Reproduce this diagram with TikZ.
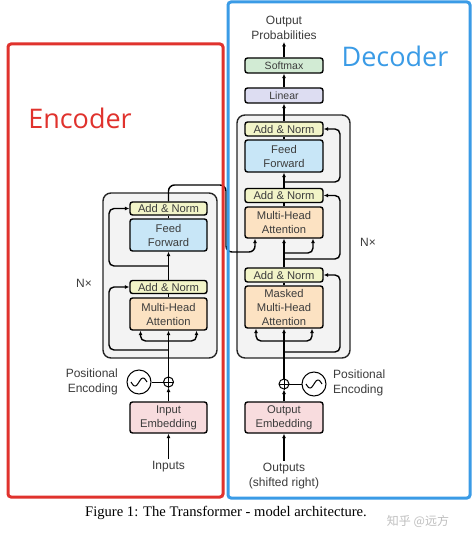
\documentclass[tikz,border=0pt]{standalone}
\usepackage{fontspec}
\setmainfont{Liberation Serif}
\newfontfamily\hv{Liberation Sans}
\newfontfamily\osans{Open Sans}
\newfontfamily\cjk{Noto Sans CJK SC}
\usetikzlibrary{arrows.meta}
\definecolor{an}{HTML}{F2F4C8}
\definecolor{ff}{HTML}{C8E6F7}
\definecolor{mha}{HTML}{FCE2C2}
\definecolor{emb}{HTML}{F8DCDE}
\definecolor{lin}{HTML}{DDDDF2}
\definecolor{smx}{HTML}{D2EBD4}
\definecolor{grayfill}{HTML}{F3F3F3}
\definecolor{txt}{HTML}{3C3C3C}
\definecolor{encred}{HTML}{E0322D}
\definecolor{decblue}{HTML}{3A9BE6}
\begin{document}
\begin{tikzpicture}[x=1pt,y=-1pt,
  blk/.style={draw=black, line width=1.4pt, rounded corners=2.5pt, minimum width=77pt, inner sep=0pt, align=center, text=txt, font=\hv\fontsize{11.2}{14}\selectfont},
  addnorm/.style={blk, fill=an, minimum height=13pt},
  ffbox/.style={blk, fill=ff, minimum height=32pt},
  mhabox/.style={blk, fill=mha, minimum height=32pt},
  embbox/.style={blk, fill=emb, minimum height=31pt},
  linbox/.style={blk, fill=lin, minimum height=15pt, font=\hv\fontsize{10.5}{13}\selectfont},
  smxbox/.style={blk, fill=smx, minimum height=15pt, font=\hv\fontsize{10.5}{13}\selectfont},
  graybox/.style={draw=black!85, line width=1.4pt, fill=grayfill, rounded corners=8pt, inner sep=0pt},
  lbl/.style={text=txt, font=\hv\fontsize{12}{15}\selectfont, align=center, inner sep=0pt},
  conn/.style={line width=1.4pt, draw=black},
  arr/.style={conn, -{Latex[length=4.5pt,width=4pt]}},
  rc/.style={rounded corners=5pt},
  plusc/.style={circle, draw=black, line width=1pt, minimum size=10pt, inner sep=0pt, fill=white},
  sinc/.style={circle, draw=black, line width=1pt, minimum size=24pt, inner sep=0pt, fill=white},
  annot/.style={line width=3pt, rounded corners=3pt, inner sep=0pt},
  bigword/.style={font=\osans\fontsize{27}{30}\selectfont, inner sep=0pt}
]
\useasboundingbox (0,0) rectangle (474,540);
\fill[white] (0,0) rectangle (474,540);

% gray layer boxes
\node[graybox, minimum width=114pt, minimum height=165pt] (eGray) at (160,275.5) {};
\node[graybox, minimum width=113pt, minimum height=243pt] (dGray) at (293.5,236.5) {};

% encoder blocks
\node[addnorm] (eAN2) at (168.5,208.5) {Add \& Norm};
\node[ffbox] (eFF) at (168.5,235) {Feed\\Forward};
\node[addnorm] (eAN1) at (168.5,287) {Add \& Norm};
\node[mhabox] (eMHA) at (168.5,314) {Multi-Head\\Attention};
\node[embbox] (eEmb) at (168.5,417.5) {Input\\Embedding};
\node[plusc] (ePlus) at (168.5,382) {};
\draw[line width=1pt] (ePlus.north) -- (ePlus.south) (ePlus.west) -- (ePlus.east);
\node[sinc] (eSin) at (139,382) {};
\draw[line width=1pt, shift={(eSin.center)}] plot[domain=-8:8, samples=40, smooth] (\x,{-4*sin(\x*22.5)});
\node[lbl] (eIn) at (168.5,467) {Inputs};
\node[lbl, anchor=east, align=right] (ePos) at (118,381.5) {Positional\\Encoding};
\node[lbl] (eN) at (84,283) {N×};

% decoder blocks
\node[addnorm, minimum width=78pt, minimum height=14pt] (dAN3) at (284,129) {Add \& Norm};
\node[ffbox, minimum width=78pt] (dFF) at (284,156) {Feed\\Forward};
\node[addnorm, minimum width=78pt, minimum height=14pt] (dAN2) at (284,195.5) {Add \& Norm};
\node[mhabox, minimum width=78pt, minimum height=31pt] (dMHA) at (284,222.5) {Multi-Head\\Attention};
\node[addnorm, minimum width=78pt, minimum height=14pt] (dAN1) at (284,275) {Add \& Norm};
\node[mhabox, minimum width=78pt, minimum height=42pt] (dMMHA) at (284,307) {Masked\\Multi-Head\\Attention};
\node[embbox, minimum width=78pt] (dEmb) at (284,417.5) {Output\\Embedding};
\node[linbox, minimum width=78pt] (dLin) at (284,95.5) {Linear};
\node[smxbox, minimum width=78pt] (dSmx) at (284,65.5) {Softmax};
\node[plusc] (dPlus) at (284,384) {};
\draw[line width=1pt] (dPlus.north) -- (dPlus.south) (dPlus.west) -- (dPlus.east);
\node[sinc] (dSin) at (314,384) {};
\draw[line width=1pt, shift={(dSin.center)}] plot[domain=-8:8, samples=40, smooth] (\x,{-4*sin(\x*22.5)});
\node[lbl] (dOut) at (284,476) {Outputs\\(shifted right)};
\node[lbl] (dProb) at (284,28) {Output\\Probabilities};
\node[lbl, anchor=west, align=left] (dPos) at (333,383) {Positional\\Encoding};
\node[lbl] (dN) at (368,242) {N×};

% helper coordinates
\coordinate (eLeft) at (109,0);
\coordinate (dRight) at (340,0);
\coordinate (eBr) at (168.5,341);
\coordinate (eR1) at (168.5,350);
\coordinate (eR2) at (168.5,266);
\coordinate (eTop) at (168.5,185);
\coordinate (eDown) at (226,252);
\coordinate (dBr) at (284,341);
\coordinate (dR1) at (284,352);
\coordinate (dBr2) at (284,253);
\coordinate (dR2) at (284,259);
\coordinate (dR3) at (284,182);

% encoder connectors
\draw[arr, shorten <=2pt] (eIn) -- (eEmb);
\draw[arr] (eEmb) -- (ePlus);
\draw[conn, line width=1pt] (eSin) -- (ePlus);
\draw[arr] (ePlus) -- (eMHA);
\draw[arr, rc] (eBr) -| ([xshift=-28pt]eMHA.south);
\draw[arr, rc] (eBr) -| ([xshift=28pt]eMHA.south);
\draw[arr, rc] (eR1) -| (eAN1.west -| eLeft) -- (eAN1.west);
\draw[conn] (eMHA) -- (eAN1);
\draw[arr] (eAN1) -- (eFF);
\draw[arr, rc] (eR2) -| (eAN2.west -| eLeft) -- (eAN2.west);
\draw[conn] (eFF) -- (eAN2);
\draw[arr, rounded corners=6pt] (eAN2.north) |- (eDown |- eTop) -- (eDown) -| ([xshift=-29pt]dMHA.south);

% decoder connectors
\draw[arr, shorten <=2pt] (dOut) -- (dEmb);
\draw[arr] (dEmb) -- (dPlus);
\draw[conn, line width=1pt] (dSin) -- (dPlus);
\draw[arr] (dPlus) -- (dMMHA);
\draw[arr, rc] (dBr) -| ([xshift=-28pt]dMMHA.south);
\draw[arr, rc] (dBr) -| ([xshift=28pt]dMMHA.south);
\draw[arr, rc] (dR1) -| (dAN1.east -| dRight) -- (dAN1.east);
\draw[conn] (dMMHA) -- (dAN1);
\draw[arr] (dAN1) -- (dMHA);
\draw[arr, rc] (dBr2) -| ([xshift=29pt]dMHA.south);
\draw[arr, rc] (dR2) -| (dAN2.east -| dRight) -- (dAN2.east);
\draw[conn] (dMHA) -- (dAN2);
\draw[arr] (dAN2) -- (dFF);
\draw[arr, rc] (dR3) -| (dAN3.east -| dRight) -- (dAN3.east);
\draw[conn] (dFF) -- (dAN3);
\draw[arr] (dAN3) -- (dLin);
\draw[arr] (dLin) -- (dSmx);
\draw[arr, shorten >=2pt] (dSmx) -- (dProb);

% annotation frames
\node[annot, draw=encred, minimum width=215pt, minimum height=453pt] (encFrame) at (115.5,270.5) {};
\node[annot, draw=decblue, minimum width=242pt, minimum height=496pt] (decFrame) at (349,250) {};
\node[bigword, text=encred] (encWord) at (80,118) {Encoder};
\node[bigword, text=decblue] (decWord) at (395,56) {Decoder};

% caption and watermark
\node[inner sep=0pt, font=\fontsize{14.6}{16}\selectfont] (cap) at (226,513) {Figure 1: The Transformer - model architecture.};
\node[inner sep=0pt, text=black!25, font=\cjk\fontsize{12}{14}\selectfont] (wm) at (418,521) {知乎 @远方};
\end{tikzpicture}
\end{document}
